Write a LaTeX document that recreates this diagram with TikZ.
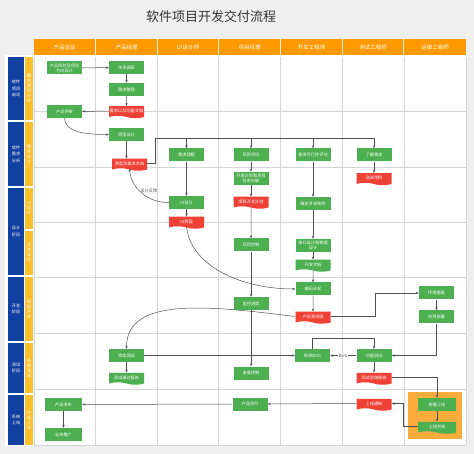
\documentclass[tikz,border=0pt]{standalone}
\usepackage{fontspec}
\setmainfont{Noto Sans CJK SC}
\usepackage{xcolor}
\usepackage{tikz}
\usetikzlibrary{arrows.meta, shapes.symbols}
\definecolor{taskgreen}{RGB}{76, 175, 80}
\definecolor{docred}{RGB}{240, 65, 55}
\definecolor{headorange}{RGB}{255, 153, 0}
\definecolor{phaseblue}{RGB}{16, 64, 160}
\definecolor{subyellow}{RGB}{252, 192, 45}
\definecolor{gridgray}{RGB}{212, 212, 212}
\definecolor{pagegray}{RGB}{239, 239, 239}
\definecolor{liveorange}{RGB}{250, 172, 60}
\definecolor{flowgray}{RGB}{80, 80, 80}
\newcommand{\tinyfont}{\fontsize{4.2}{5}\selectfont}

\begin{document}
\begin{tikzpicture}[x=1pt, y=-1pt,
    task/.style={fill=taskgreen, text=white, minimum width=35pt, minimum height=13pt, inner sep=0.5pt, align=center, font=\tinyfont},
    redoc/.style={task, fill=docred, shape=tape, tape bend top=none, tape bend bottom=out and in, tape bend height=2.5pt, minimum height=12pt},
    greendoc/.style={redoc, fill=taskgreen},
    flow/.style={draw=flowgray, line width=0.5pt, -{Stealth[length=3pt, width=2.4pt]}},
    lane/.style={text=white, align=center, inner sep=0pt}]
    \useasboundingbox (0,0) rectangle (474,454);
    \fill[pagegray] (0,0) rectangle (474,454);
    \fill[white] (5,55) rectangle (467,446);

    % Title
    \node[font=\fontsize{13}{15}\selectfont, text=black!80] (title) at (211,17) {软件项目开发交付流程};

    % Role header
    \foreach \xa/\xb/\role [count=\i] in {34/95/产品总监, 96/157/产品经理, 158/218/UI设计师, 219/280/项目经理, 281/342/开发工程师, 343/403/测试工程师, 404/466/运维工程师} {
        \fill[headorange] (\xa,39) rectangle (\xb,55);
        \node[lane, font=\fontsize{5.5}{6}\selectfont] (role-\i) at ({(\xa+\xb)/2},47) {\role};
    }

    % Grid
    \foreach \x in {34,95,157,218,280,342,404,466}
        \draw[gridgray, line width=0.6pt] (\x,57) -- (\x,445);
    \foreach \y in {111,167,222,277,333,389,445}
        \draw[gridgray, line width=0.6pt] (34,\y) -- (466,\y);

    % Phase and step columns
    \foreach \ya/\yb/\stage [count=\i] in {57/120/{软件\\项目\\启动}, 122/186/{软件\\需求\\分析}, 188/275/{设计\\阶段}, 277/341/{开发\\阶段}, 343/393/{测试\\阶段}, 395/445/{系统\\上线}} {
        \fill[phaseblue] (8,\ya) rectangle (24,\yb);
        \node[lane, font=\fontsize{4.2}{6.5}\selectfont] (phase-\i) at (16,{(\ya+\yb)/2}) {\stage};
    }
    \foreach \ya/\yb/\step [count=\i] in {57/120/{需\\求\\调\\研\\分\\析}, 122/186/{需\\求\\设\\计}, 188/229/{UI\\设\\计}, 231/275/{开\\发\\设\\计}, 277/341/{编\\码\\开\\发}, 343/393/{系\\统\\测\\试}, 395/445/{产\\品\\上\\线}} {
        \fill[subyellow] (25,\ya) rectangle (33,\yb);
        \node[lane, font=\tinyfont] (sub-\i) at (29,{(\ya+\yb)/2}) {\step};
    }

    % 软件项目启动
    \node[task] (plan0) at (64.5,68) {产品规划及项目\\方向设计};
    \node[task] (survey) at (126.5,67.5) {市场调研};
    \node[task] (sortout) at (126.5,89.5) {需求整理};
    \node[redoc] (funcdoc) at (126.5,111) {需求以及功能文档};
    \node[task] (review) at (64.5,111.5) {产品评审};

    % 软件需求分析
    \node[task] (proto) at (126.5,134.5) {原型设计};
    \node[redoc] (protodoc) at (129.5,163.5) {原型及需求文档};
    \coordinate (bus) at (155,138);
    \node[task] (grasp) at (186.5,155) {需求理解};
    \node[task] (riskeval) at (251,155) {风险评估};
    \node[task] (feasible) at (313,155) {需求可行性评估};
    \node[task] (learnreq) at (374,155) {了解需求};
    \node[redoc] (cases) at (374,178) {测试用例};
    \node[task] (breakdown) at (251,178.5) {开发计划和项目\\任务分解};

    % 设计阶段
    \node[redoc] (projplan) at (251,201.5) {项目开发计划};
    \node[task] (arch) at (313,203.5) {确定开发架构};
    \node[task] (uidesign) at (186.5,202.5) {UI设计};
    \node[redoc] (uidoc) at (186.5,221.5) {UI界面};
    \node[task] (riskctl) at (251,245) {风险控制};
    \node[task] (iface) at (313,245.5) {接口设计和数据\\设计};
    \node[greendoc] (devdoc) at (313,264.5) {开发文档};

    % 开发阶段
    \node[task] (coding) at (313,289) {编码开发};
    \node[task] (monitor) at (251,303.5) {监控进度};
    \node[redoc] (beta) at (313,316.5) {产品测试版};
    \node[task] (envset) at (436.5,293) {环境搭建};
    \node[task] (deploy) at (436.5,317) {应用部署};

    % 测试阶段
    \node[task] (accept) at (126.5,355.5) {验收测试};
    \node[task] (fixbug) at (312.5,355.5) {修改BUG};
    \node[task] (functest) at (374,355.5) {功能测试};
    \node[greendoc] (passdoc) at (126.5,377.5) {测试通过报告};
    \node[task] (progctl) at (251,373) {进度控制};
    \node[redoc] (sumdoc) at (374,377.5) {测试总结报告};

    % 系统上线
    \fill[liveorange] (408,392) rectangle (462,439);
    \node[task, minimum width=38pt] (golive) at (437,404.5) {部署上线};
    \node[greendoc, minimum width=38pt] (livedone) at (437,426.5) {上线完成};
    \node[redoc] (notice) at (374,403.5) {上线通知};
    \node[task] (deliver) at (250,404) {产品交付};
    \node[task, minimum width=37pt] (release) at (63.5,404.5) {产品发布};
    \node[task, minimum width=37pt] (promote) at (63.5,434.5) {业务推广};

    % Connectors
    \draw[flow] (plan0) -- (survey);
    \draw[flow] (survey) -- (sortout);
    \draw[flow] (sortout) -- (funcdoc);
    \draw[flow] (funcdoc) -- (review);
    \draw[flow] (review.south) .. controls (64.5,132) and (85,134.5) .. (proto.west);
    \draw[flow] (proto.south) -- (proto.south |- protodoc.north);
    \draw[draw=flowgray, line width=0.5pt] (protodoc.east) -| (bus) -- (bus -| learnreq);
    \foreach \t in {grasp, riskeval, feasible, learnreq}
        \draw[flow] (bus -| \t) -- (\t.north);
    \draw[flow] (learnreq) -- (cases);
    \draw[flow] (riskeval) -- (breakdown);
    \draw[flow] (breakdown) -- (projplan);
    \draw[flow] (projplan) -- (riskctl);
    \draw[flow] (riskctl) -- (monitor);
    \draw[flow] (monitor) -- (progctl);
    \draw[flow] (feasible) -- (arch);
    \draw[flow] (arch) -- (iface);
    \draw[flow] (iface) -- (devdoc);
    \draw[flow] (devdoc) -- (coding);
    \draw[flow] (coding) -- (beta);
    \draw[flow] (grasp) -- (uidesign);
    \draw[flow] (uidesign) -- (uidoc);
    \draw[flow] (uidesign.west) .. controls (148,203) and (131,188) .. node[pos=0.35, above=1pt, font=\tinyfont, text=flowgray] (feedback) {设计反馈} (protodoc.south);
    \draw[flow] (uidoc.south) .. controls (190,265) and (240,289) .. (coding.west);
    \draw[flow] (beta.west) .. controls (210,306) and (126.5,296) .. (accept.north);
    \draw[flow] (beta.east) -- ++(45,0) |- (envset.west);
    \draw[flow] (envset) -- (deploy);
    \draw[flow] (deploy.south) |- (functest.east);
    \draw[flow] (accept) -- (fixbug);
    \draw[flow] (functest) -- node[fill=white, font=\tinyfont, text=flowgray, inner sep=0.5pt] (bugtag) {BUG} (fixbug);
    \draw[flow] (fixbug.north) -- ++(0,-11) -| (functest.north);
    \draw[flow] (accept) -- (passdoc);
    \draw[flow] (functest) -- (sumdoc);
    \draw[flow] (sumdoc.east) -| (golive.north);
    \draw[flow] (golive) -- (livedone);
    \draw[flow] (livedone.west) -- ++(-15,0) |- (notice.east);
    \draw[flow] (notice) -- (deliver);
    \draw[flow] (deliver) -- (release);
    \draw[flow] (release) -- (promote);
\end{tikzpicture}
\end{document}
